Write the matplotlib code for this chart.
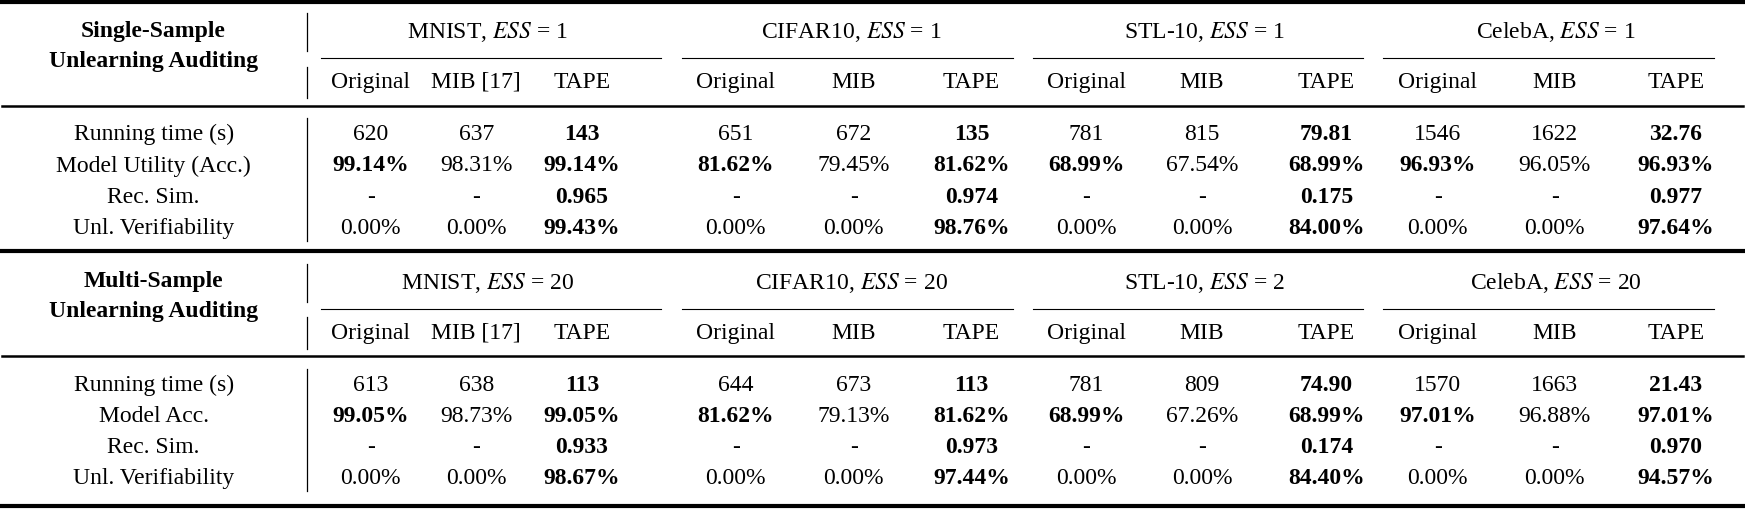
import matplotlib
matplotlib.use("Agg")
import matplotlib.pyplot as plt

plt.rcParams['font.family'] = ['Liberation Serif', 'DejaVu Serif']
plt.rcParams['mathtext.fontset'] = 'stix'

# ---- data ----
methods_a = ["Original", "MIB [17]", "TAPE"]
methods_b = ["Original", "MIB", "TAPE"]
datasets = ["MNIST", "CIFAR10", "STL-10", "CelebA"]
ess_single = [1, 1, 1, 1]
ess_multi = [20, 20, 2, 20]

rows_single = ["Running time (s)", "Model Utility (Acc.)", "Rec. Sim.", "Unl. Verifiability"]
rows_multi = ["Running time (s)", "Model Acc.", "Rec. Sim.", "Unl. Verifiability"]

single = [
    ["620", "637", "143", "651", "672", "135", "781", "815", "79.81", "1546", "1622", "32.76"],
    ["99.14%", "98.31%", "99.14%", "81.62%", "79.45%", "81.62%", "68.99%", "67.54%", "68.99%", "96.93%", "96.05%", "96.93%"],
    ["-", "-", "0.965", "-", "-", "0.974", "-", "-", "0.175", "-", "-", "0.977"],
    ["0.00%", "0.00%", "99.43%", "0.00%", "0.00%", "98.76%", "0.00%", "0.00%", "84.00%", "0.00%", "0.00%", "97.64%"],
]
multi = [
    ["613", "638", "113", "644", "673", "113", "781", "809", "74.90", "1570", "1663", "21.43"],
    ["99.05%", "98.73%", "99.05%", "81.62%", "79.13%", "81.62%", "68.99%", "67.26%", "68.99%", "97.01%", "96.88%", "97.01%"],
    ["-", "-", "0.933", "-", "-", "0.973", "-", "-", "0.174", "-", "-", "0.970"],
    ["0.00%", "0.00%", "98.67%", "0.00%", "0.00%", "97.44%", "0.00%", "0.00%", "84.40%", "0.00%", "0.00%", "94.57%"],
]
# bold flags per row: TAPE always bold, Original bold on accuracy row
bold_cols = [[2], [0, 2], [2], [2]]

# ---- layout (in a 1568 x 457 canvas) ----
W, H = 1568, 457
fig = plt.figure(figsize=(17.45, 5.09), dpi=100)
ax = fig.add_axes([0, 0, 1, 1])
ax.set_xlim(0, W)
ax.set_ylim(H, 0)
ax.axis('off')

FS = 17
col_x = [333, 428, 523, 661, 767, 873, 976, 1080, 1192, 1292, 1397, 1506]
grp_x = [438, 765, 1082, 1398]
grp_span = [(288, 594), (613, 910), (928, 1225), (1243, 1540)]
label_x = 138
bar_x = 276


def block(y0, title, ess, rows, data, mlabels_first):
    for k, line in enumerate(title):
        ax.text(label_x, y0 + 28 + 27 * k, line, ha='center', va='center',
                fontsize=FS, fontweight='bold')
    ax.plot([bar_x, bar_x], [y0 + 12, y0 + 46], color='k', lw=0.9)
    ax.plot([bar_x, bar_x], [y0 + 60, y0 + 88], color='k', lw=0.9)
    for g, name in enumerate(datasets):
        ax.text(grp_x[g], y0 + 29, name + ", $\\mathit{ESS}$ = " + str(ess[g]),
                ha='center', va='center', fontsize=FS)
        ax.plot(grp_span[g], [y0 + 52, y0 + 52], color='k', lw=0.8)
        labs = mlabels_first if g == 0 else methods_b
        for j in range(3):
            ax.text(col_x[3 * g + j], y0 + 74, labs[j], ha='center', va='center', fontsize=FS)
    ax.plot([2, W - 2], [y0 + 95, y0 + 95], color='k', lw=1.8)
    ax.plot([bar_x, bar_x], [y0 + 106, y0 + 216], color='k', lw=0.9)
    for r, rname in enumerate(rows):
        y = y0 + 121 + 28 * r
        ax.text(label_x, y, rname, ha='center', va='center', fontsize=FS)
        for c, val in enumerate(data[r]):
            bold = (c % 3) in bold_cols[r] and val != "-"
            ax.text(col_x[c], y, val, ha='center', va='center', fontsize=FS,
                    fontweight='bold' if bold else 'normal')


ax.plot([2, W - 2], [2, 2], color='k', lw=3)
block(0, ["Single-Sample", "Unlearning Auditing"], ess_single, rows_single, single, methods_a)
ax.plot([2, W - 2], [225, 225], color='k', lw=3)
block(225, ["Multi-Sample", "Unlearning Auditing"], ess_multi, rows_multi, multi, methods_a)
ax.plot([2, W - 2], [454, 454], color='k', lw=3)

fig.savefig("out.png", dpi=100)
